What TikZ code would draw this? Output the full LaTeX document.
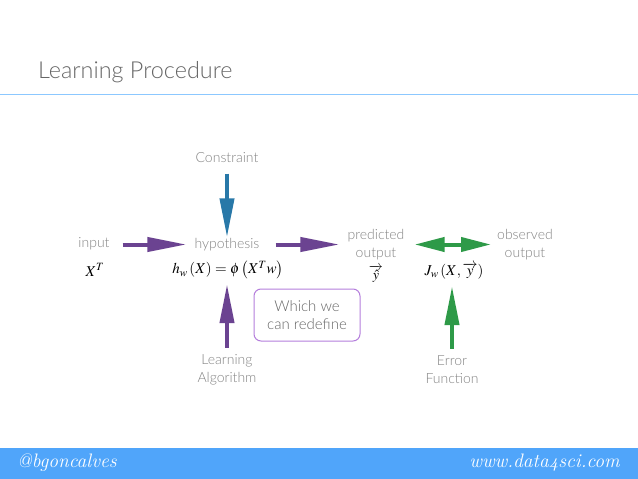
\documentclass[tikz,border=0pt]{standalone}
\usepackage{amsmath}
\usepackage{mathptmx}
\usepackage{fontspec}
\setmainfont{Lato}[UprightFont=* Light]
\newfontfamily\footfont[Numbers=OldStyle]{Latin Modern Roman}
\usetikzlibrary{arrows.meta}
\definecolor{flowpurple}{HTML}{6B4391}
\definecolor{flowblue}{HTML}{2878A8}
\definecolor{flowgreen}{HTML}{2E9A48}
\definecolor{boxpurple}{HTML}{B57EDC}
\definecolor{footblue}{HTML}{50A5FA}
\definecolor{ruleblue}{HTML}{8CC8FF}
\definecolor{softgray}{HTML}{848484}
\tikzset{
  lbl/.style={inner sep=0pt,text=softgray,font=\fontsize{14}{18}\selectfont,align=center},
  one/.style={lbl,text height=10pt,text depth=2pt},
  frm/.style={inner sep=0pt,text=black,font=\fontsize{15}{17}\selectfont,minimum height=20pt},
  foot/.style={inner sep=0pt,text=white,font=\footfont\itshape\fontsize{19.5}{22}\selectfont},
  flow/.style={line width=4pt,-{Triangle[length=39pt,width=14pt]}},
  flowtwo/.style={line width=4pt,{Triangle[length=30pt,width=14pt]}-{Triangle[length=30pt,width=14pt]}}
}
\begin{document}
\begin{tikzpicture}[x=1pt,y=-1pt]
\useasboundingbox (0,0) rectangle (638,479);
\fill[white] (0,0) rectangle (638,479);
\fill[footblue] (0,447.5) rectangle (638,479);
\draw[ruleblue,line width=1pt] (0,94) -- (638,94);
\node[inner sep=0pt,anchor=west,text=black!60,font=\fontsize{23.4}{28}\selectfont] (title) at (38,72) {Learning Procedure};
\node[foot,anchor=west] (handle) at (17,463) {@bgoncalves};
\node[foot,anchor=east] (site) at (620,463) {www.data4sci.com};
% top row
\node[one] (input) at (94,243.5) {input};
\node[one] (hyp) at (227,244.5) {hypothesis};
\node[lbl] (pred) at (376,245) {predicted\\output};
\node[lbl] (obs) at (525,245) {observed\\output};
\node[one] (constr) at (227,158.5) {Constraint};
% formulas
\node[frm] (xt) at (95,270) {$X^{T}$};
\node[frm] (hw) at (228,270) {$h_{w}\left(X\right)=\phi\left(X^{T}w\right)$};
\node[frm,font=\fontsize{14}{16}\selectfont] (yh) at (376,274) {$\overrightarrow{\hat{y}}$};
\node[frm] (jw) at (454,271) {$J_{w}\left(X,\overrightarrow{y}\right)$};
% bottom row
\node[lbl] (learn) at (227,370) {Learning\\Algorithm};
\node[lbl] (err) at (452,370) {Error\\Function};
\node[draw=boxpurple,line width=1pt,rounded corners=7pt,minimum width=106pt,minimum height=52pt,inner sep=0pt,align=center,text=black!60,font=\fontsize{15}{18}\selectfont] (which) at (307,315) {Which we\\can redefine};
% arrows
\draw[flow,flowblue,shorten <=9pt,shorten >=1pt] (constr.south) -- (constr.south |- hyp.north);
\draw[flow,flowpurple,shorten <=13pt,shorten >=8pt] (input.east |- hyp) -- (hyp.west);
\draw[flow,flowpurple,shorten <=16pt,shorten >=8pt] (hyp.east) -- (hyp.east -| pred.west);
\draw[flow,flowpurple,shorten <=7pt,shorten >=4pt] (learn.north) -- (learn.north |- hw.south);
\draw[flowtwo,flowgreen,shorten <=10pt,shorten >=6pt] (pred.east |- hyp) -- (obs.west |- hyp);
\draw[flow,flowgreen,shorten <=7pt,shorten >=5pt] (err.north) -- (err.north |- jw.south);
\end{tikzpicture}
\end{document}
